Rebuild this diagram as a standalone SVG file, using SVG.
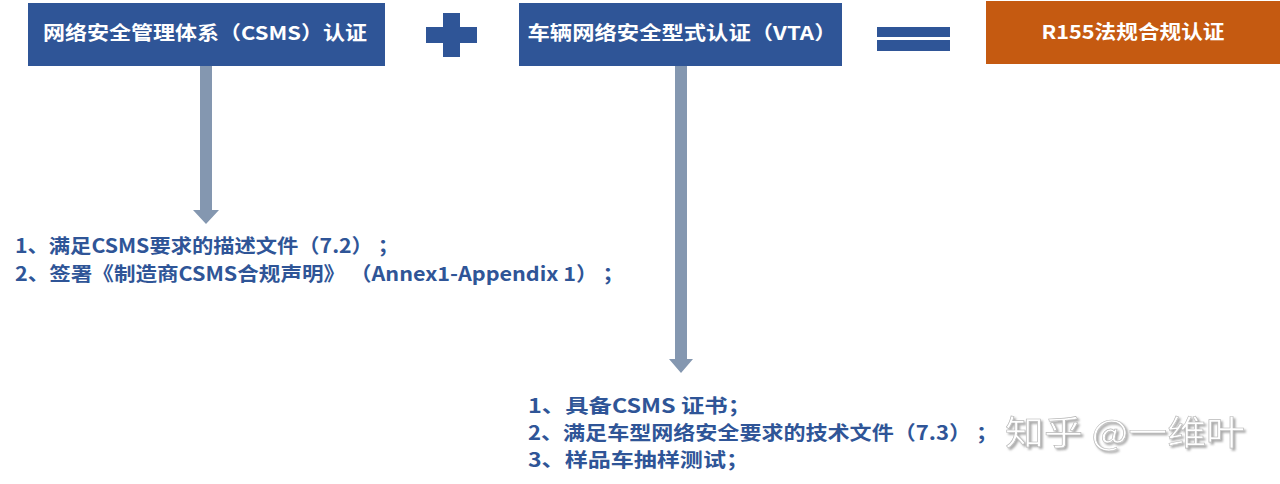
<svg xmlns="http://www.w3.org/2000/svg" width="1280" height="484" viewBox="0 0 1280 484">
<style>
.hdr{font-family:"Noto Sans CJK SC","Liberation Sans",sans-serif;font-weight:bold;font-size:19px;fill:#ffffff;text-anchor:middle}
.item{font-family:"Noto Sans CJK SC","Liberation Sans",sans-serif;font-weight:bold;font-size:19.5px;fill:#2F5597}
.blue{fill:#2F5597}
.arrow{fill:#8497B0}
.wm{font-family:"Noto Sans CJK SC","Liberation Sans",sans-serif;font-size:34px;fill:#ffffff;stroke:#b8b8b8;stroke-width:0.6}
</style>
<defs>
  <filter id="shadow" x="-10%" y="-30%" width="120%" height="160%">
    <feDropShadow dx="2" dy="2" stdDeviation="0.8" flood-color="#9a9a9a" flood-opacity="0.85"/>
  </filter>
</defs>
<rect width="1280" height="484" fill="#ffffff"/>
<g id="connectors">
  <polygon class="arrow" points="200,66 212,66 212,210 219,210 206,224 193,210 200,210"/>
  <polygon class="arrow" points="675,66 687,66 687,359 693,359 681,373 669,359 675,359"/>
</g>
<g id="csms">
  <rect class="blue" x="28" y="3" width="357" height="63"/>
  <text class="hdr" x="205" y="40" textLength="324" lengthAdjust="spacingAndGlyphs">网络安全管理体系（CSMS）认证</text>
</g>
<g id="plus">
  <rect class="blue" x="443" y="13" width="17" height="44"/>
  <rect class="blue" x="426" y="27" width="51" height="16"/>
</g>
<g id="vta">
  <rect class="blue" x="519" y="3" width="323" height="63"/>
  <text class="hdr" x="682" y="40" textLength="309" lengthAdjust="spacingAndGlyphs">车辆网络安全型式认证（VTA）</text>
</g>
<g id="equals">
  <rect class="blue" x="877" y="27" width="73" height="10"/>
  <rect class="blue" x="877" y="40" width="73" height="11"/>
</g>
<g id="r155">
  <rect x="986" y="1" width="294" height="63" fill="#C55A11"/>
  <text class="hdr" x="1133" y="39" textLength="183" lengthAdjust="spacingAndGlyphs">R155法规合规认证</text>
</g>
<g id="csms-items">
  <text class="item" x="15" y="253" textLength="384" lengthAdjust="spacingAndGlyphs">1、满足CSMS要求的描述文件（7.2） ；</text>
  <text class="item" x="15" y="281" textLength="609" lengthAdjust="spacingAndGlyphs">2、签署《制造商CSMS合规声明》 （Annex1-Appendix 1） ；</text>
</g>
<g id="vta-items">
  <text class="item" x="528" y="413" textLength="223" lengthAdjust="spacingAndGlyphs">1、具备CSMS 证书；</text>
  <text class="item" x="528" y="440" textLength="470" lengthAdjust="spacingAndGlyphs">2、满足车型网络安全要求的技术文件（7.3） ；</text>
  <text class="item" x="528" y="467" textLength="221" lengthAdjust="spacingAndGlyphs">3、样品车抽样测试；</text>
</g>
<g id="watermark">
  <text class="wm" x="1005" y="445" textLength="240" lengthAdjust="spacingAndGlyphs" filter="url(#shadow)">知乎 @一维叶</text>
</g>
</svg>
